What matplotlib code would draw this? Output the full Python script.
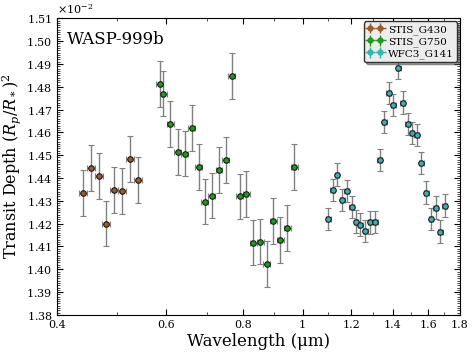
import numpy as np
import matplotlib
matplotlib.use('Agg')
import matplotlib.pyplot as plt
from matplotlib.ticker import FixedLocator, FuncFormatter, ScalarFormatter, MultipleLocator

plt.rcParams['font.family'] = 'DejaVu Serif'
plt.rcParams['mathtext.fontset'] = 'dejavuserif'

# wavelength (micron), depth (x1e-2), errors
wl_g430 = [0.440, 0.454, 0.467, 0.480, 0.495, 0.509, 0.525, 0.540]
d_g430 = [1.4333, 1.4445, 1.4409, 1.4200, 1.4348, 1.4342, 1.4484, 1.4391]
err_g430 = [0.0100, 0.0100, 0.0100, 0.0100, 0.0100, 0.0100, 0.0100, 0.0100]

wl_g750 = [0.587, 0.594, 0.610, 0.627, 0.644, 0.661, 0.678, 0.694, 0.712, 0.732,
           0.750, 0.768, 0.791, 0.811, 0.832, 0.854, 0.875, 0.896, 0.920, 0.944, 0.969]
d_g750 = [1.4811, 1.4770, 1.4638, 1.4514, 1.4507, 1.4620, 1.4447, 1.4297, 1.4323, 1.4436,
          1.4478, 1.4846, 1.4319, 1.4329, 1.4117, 1.4121, 1.4024, 1.4212, 1.4128, 1.4180, 1.4449]
err_g750 = [0.0100] * 21

wl_wfc3 = [1.101, 1.119, 1.138, 1.160, 1.180, 1.201, 1.221, 1.242, 1.264, 1.288, 1.312, 1.334, 1.357,
           1.381, 1.405, 1.430, 1.455, 1.481, 1.506, 1.533, 1.560, 1.588, 1.616, 1.644, 1.673, 1.702]
d_wfc3 = [1.4220, 1.4348, 1.4415, 1.4305, 1.4344, 1.4273, 1.4209, 1.4196, 1.4167, 1.4205, 1.4208, 1.4479, 1.4647,
          1.4772, 1.4720, 1.4884, 1.4731, 1.4637, 1.4596, 1.4588, 1.4465, 1.4336, 1.4220, 1.4270, 1.4165, 1.4279]
err_wfc3 = [0.0049] * 26

fig = plt.figure(figsize=(4.74, 3.53), dpi=100)
ax = fig.add_axes([0.121, 0.108, 0.849, 0.84])

series = [
    (wl_g430, d_g430, err_g430, 0.015, '#9a5b2c', 'STIS_G430'),
    (wl_g750, d_g750, err_g750, 0.013, '#1f9a1f', 'STIS_G750'),
    (wl_wfc3, d_wfc3, err_wfc3, 0.009, '#3fb0b0', 'WFC3_G141'),
]
handles = []
for wl, d, e, xf, col, lab in series:
    wl = np.array(wl)
    ax.errorbar(wl, np.array(d) * 1e-2, yerr=np.array(e) * 1e-2, xerr=wl * xf,
                fmt='o', ms=4, mfc=col, mec='#1a1a1a', mew=0.8,
                ecolor='0.5', elinewidth=1.0, capsize=2, capthick=0.8, zorder=3)
    h = ax.errorbar([], [], yerr=[], xerr=[], fmt='o', ms=3.5, mfc=col, mec=col,
                    ecolor=col, elinewidth=1.0, capsize=2, label=lab)
    handles.append(h)

ax.set_xscale('log')
ax.set_xlim(0.4, 1.8)
ax.set_ylim(1.38e-2, 1.51e-2)
ax.xaxis.set_major_locator(FixedLocator([0.4, 0.6, 0.8, 1.0, 1.2, 1.4, 1.6, 1.8]))
ax.xaxis.set_major_formatter(FuncFormatter(lambda v, p: '%g' % v))
ax.xaxis.set_minor_locator(FixedLocator([0.5, 0.7, 0.9, 1.1, 1.3, 1.5, 1.7]))
ax.xaxis.set_minor_formatter(FuncFormatter(lambda v, p: ''))
ax.yaxis.set_major_locator(MultipleLocator(1e-4))
ax.yaxis.set_minor_locator(MultipleLocator(1e-5))
fmt = ScalarFormatter(useMathText=True)
fmt.set_powerlimits((-2, -2))
ax.yaxis.set_major_formatter(fmt)
ax.yaxis.get_offset_text().set_fontsize(8)

ax.tick_params(which='both', direction='in', top=True, right=True, labelsize=8)
ax.tick_params(which='major', length=4, width=0.8)
ax.tick_params(which='minor', length=2, width=0.5)

ax.set_xlabel('Wavelength (\u03bcm)', fontsize=12, labelpad=2)
ax.set_ylabel('Transit Depth $(R_p/R_*)^2$', fontsize=11.5, labelpad=2)
ax.text(0.025, 0.93, 'WASP-999b', transform=ax.transAxes, fontsize=12,
        va='center', ha='left')

leg = ax.legend(handles=handles, loc='upper right', fontsize=7.5, numpoints=2,
                shadow=True, fancybox=True, framealpha=1, handlelength=1.6,
                handletextpad=0.4, borderpad=0.3, labelspacing=0.2,
                borderaxespad=0.3)
leg.get_frame().set_facecolor('#ececec')
leg.get_frame().set_edgecolor('#333333')

fig.savefig('out.png', dpi=100)
